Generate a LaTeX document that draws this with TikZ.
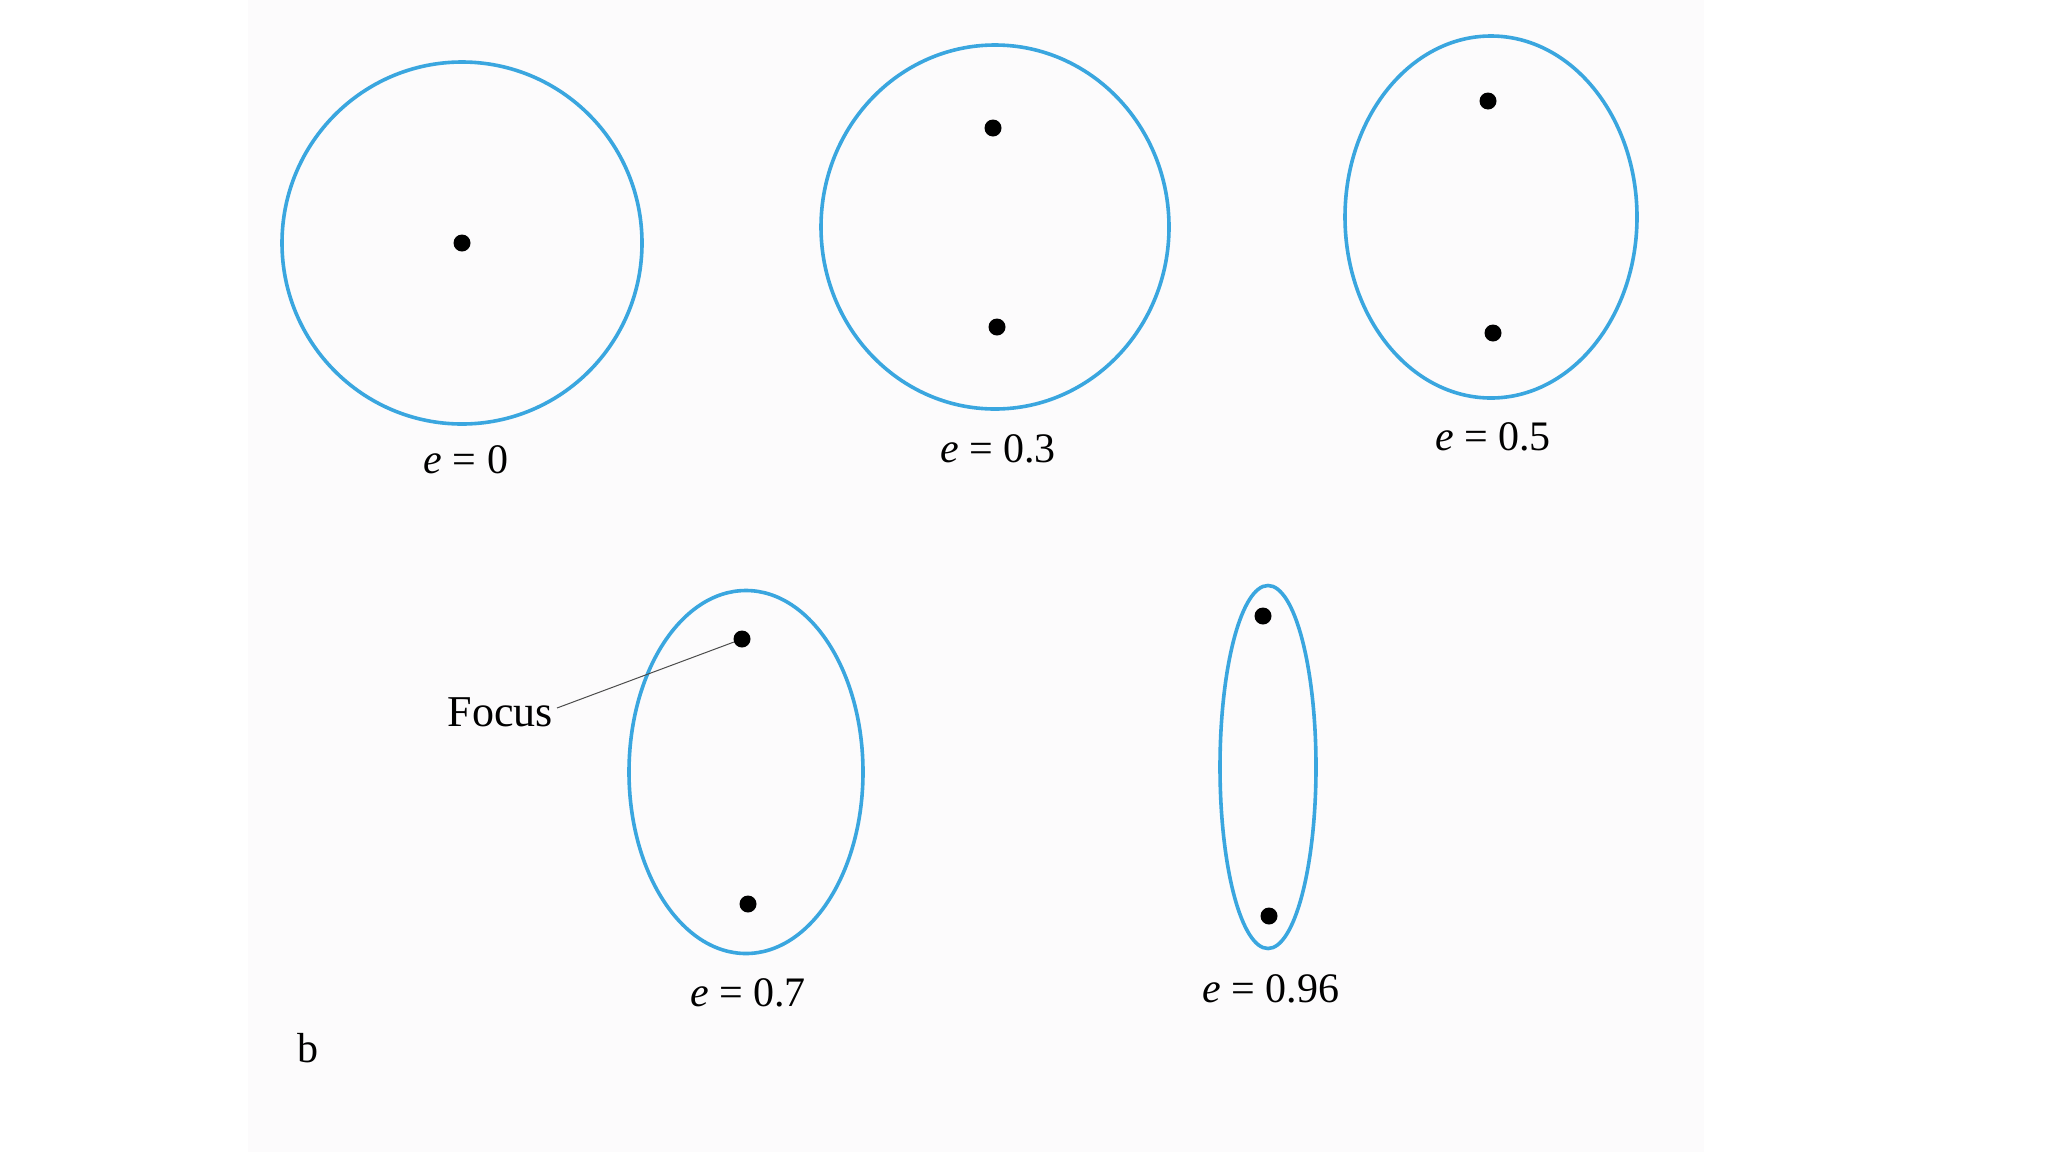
\documentclass[tikz,border=0pt]{standalone}
\usepackage{fontspec}
\setmainfont{Liberation Serif}
\usetikzlibrary{shapes.geometric}
\definecolor{orbit}{RGB}{58,166,223}
\definecolor{panel}{RGB}{252,251,252}
\begin{document}
\begin{tikzpicture}[x=1pt,y=-1pt,
  orb/.style={ellipse,draw=orbit,line width=3.6pt,inner sep=0pt},
  focusdot/.style={circle,fill=black,inner sep=0pt,minimum size=17pt},
  lbl/.style={font=\fontsize{42}{48}\selectfont,inner sep=0pt}]
\useasboundingbox (0,0) rectangle (2048,1152);
\fill[panel] (248,0) rectangle (1704,1152);
% e = 0
\node[orb,minimum width=360pt,minimum height=362pt] (o1) at (462,243) {};
\node[focusdot] (f1) at (462,243) {};
\node[lbl] (l1) at (466,460) {\textit{e} = 0};
% e = 0.3
\node[orb,minimum width=348pt,minimum height=364pt] (o2) at (995,227) {};
\node[focusdot] (f2a) at (993,128) {};
\node[focusdot] (f2b) at (997,327) {};
\node[lbl] (l2) at (998,449) {\textit{e} = 0.3};
% e = 0.5
\node[orb,minimum width=292pt,minimum height=362pt] (o3) at (1491,217) {};
\node[focusdot] (f3a) at (1488,101) {};
\node[focusdot] (f3b) at (1493,333) {};
\node[lbl] (l3) at (1493,437) {\textit{e} = 0.5};
% e = 0.7
\node[orb,minimum width=234pt,minimum height=363pt] (o4) at (746,772) {};
\node[focusdot] (f4a) at (742,639) {};
\node[focusdot] (f4b) at (748,904) {};
\node[lbl] (l4) at (748,993) {\textit{e} = 0.7};
% e = 0.96
\node[orb,minimum width=96pt,minimum height=363pt] (o5) at (1268,767) {};
\node[focusdot] (f5a) at (1263,616) {};
\node[focusdot] (f5b) at (1269,916) {};
\node[lbl] (l5) at (1271,989) {\textit{e} = 0.96};
% Focus label
\node[lbl,anchor=east,font=\fontsize{44}{50}\selectfont] (fl) at (553,712) {Focus};
\draw[line width=1pt,black!70] (fl.east) ++(4,-4) coordinate (fs) -- (f4a);
\node[lbl] (b) at (308,1048) {b};
\end{tikzpicture}
\end{document}
